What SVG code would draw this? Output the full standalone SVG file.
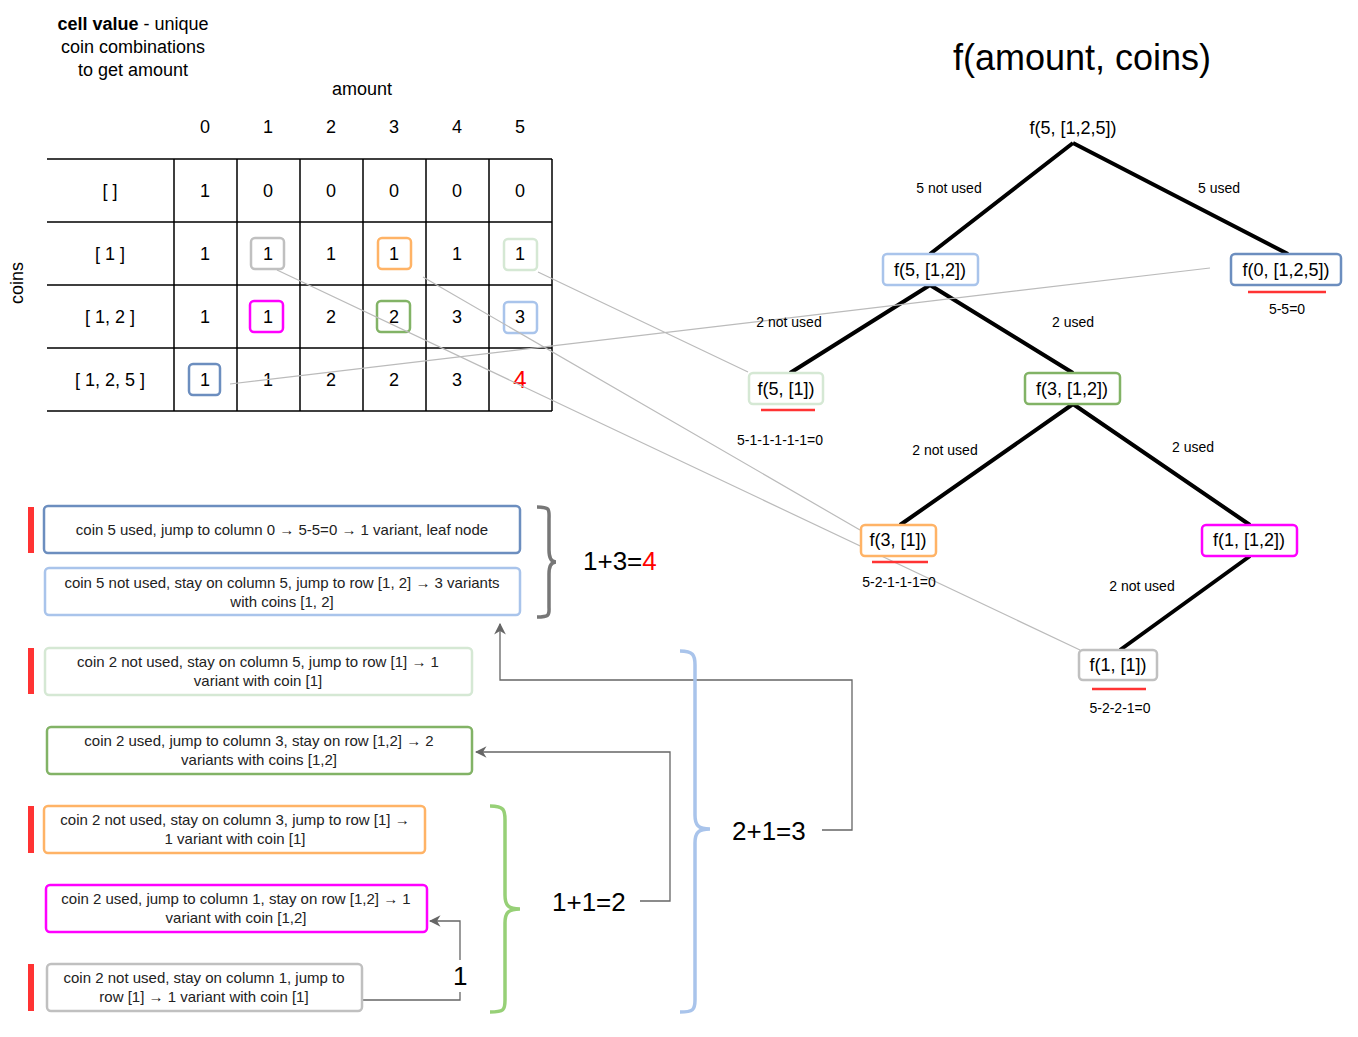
<svg xmlns="http://www.w3.org/2000/svg" width="1358" height="1037" viewBox="0 0 1358 1037">
<defs>
<style>
text{font-family:"Liberation Sans",Arial,sans-serif;fill:#000}
.t{font-size:18px;text-anchor:middle}
.s{font-size:14px;text-anchor:middle;fill:#666}
.b{font-size:15px;text-anchor:middle;fill:#222}
.g{fill:none;stroke:#000;stroke-width:1.5}
.nb{fill:#fff;stroke-width:2.5;rx:4}
.te{stroke:#000;stroke-width:4}
.gl{stroke:#bbb;stroke-width:1.2;fill:none}
.ul{stroke:#f33;stroke-width:2.5}
.rb{fill:#f33}
.cb{fill:#fff;stroke-width:2.5}
.ar{fill:none;stroke:#666;stroke-width:1.3;marker-end:url(#a)}
</style>
<marker id="a" viewBox="0 0 10 10" refX="9" refY="5" markerWidth="9" markerHeight="9" orient="auto"><path d="M0,0 L10,5 L0,10 L3,5 z" fill="#666"/></marker>
</defs>
<rect width="1358" height="1037" fill="#fff"/>
<text x="133" y="30" class="t"><tspan font-weight="bold">cell value</tspan> - unique</text>
<text x="133" y="53" class="t">coin combinations</text>
<text x="133" y="76" class="t">to get amount</text>
<text x="362" y="95" class="t">amount</text>
<text transform="translate(23,283) rotate(-90)" class="t">coins</text>
<text x="1082" y="70" font-size="36" text-anchor="middle">f(amount, coins)</text>
<g id="table">
<path class="g" d="M47,159H552M47,222H552M47,285H552M47,348H552M47,411H552M174,159V411M237,159V411M300,159V411M363,159V411M426,159V411M489,159V411M552,159V411"/>
<g class="t">
<text x="205" y="133">0</text><text x="268" y="133">1</text><text x="331" y="133">2</text><text x="394" y="133">3</text><text x="457" y="133">4</text><text x="520" y="133">5</text>
<text x="110" y="197">[ ]</text><text x="110" y="260">[ 1 ]</text><text x="110" y="323">[ 1, 2 ]</text><text x="110" y="386">[ 1, 2, 5 ]</text>
</g>
<rect class="cb" x="251" y="238" width="33" height="31" rx="4" stroke="#C0C0C0"/>
<rect class="cb" x="378" y="238" width="33" height="31" rx="4" stroke="#FFB366"/>
<rect class="cb" x="504" y="239" width="33" height="31" rx="4" stroke="#D5E8D4"/>
<rect class="cb" x="250" y="301" width="33" height="31" rx="4" stroke="#FF00FF"/>
<rect class="cb" x="377" y="301" width="33" height="31" rx="4" stroke="#82B366"/>
<rect class="cb" x="504" y="302" width="33" height="31" rx="4" stroke="#A9C4EB"/>
<rect class="cb" x="189" y="364" width="31" height="31" rx="4" stroke="#6C8EBF"/>
<g class="t">
<text x="205" y="197">1</text><text x="268" y="197">0</text><text x="331" y="197">0</text><text x="394" y="197">0</text><text x="457" y="197">0</text><text x="520" y="197">0</text>
<text x="205" y="260">1</text><text x="268" y="260">1</text><text x="331" y="260">1</text><text x="394" y="260">1</text><text x="457" y="260">1</text><text x="520" y="260">1</text>
<text x="205" y="323">1</text><text x="268" y="323">1</text><text x="331" y="323">2</text><text x="394" y="323">2</text><text x="457" y="323">3</text><text x="520" y="323">3</text>
<text x="205" y="386">1</text><text x="268" y="386">1</text><text x="331" y="386">2</text><text x="394" y="386">2</text><text x="457" y="386">3</text><text x="520" y="388" font-size="24" style="fill:#f00">4</text>
</g>
</g>
<g id="connectors">
<path class="te" d="M1073,143L930,254M1073,143L1288,254M930,285L790,373M930,285L1073,373M1073,404L900,525M1073,404L1250,525M1250,556L1120,650"/>
<path class="gl" d="M230,384L1210,268M538,272L748,372M423,277L860,530M277,270L1080,650"/>
<path class="ar" d="M822,830H852V680H500V624"/>
<path class="ar" d="M640,901H670V752H476"/>
<path class="ar" d="M460,960V921H430"/>
<path fill="none" stroke="#666" stroke-width="1.3" d="M362,1000H460V992"/>
<path fill="none" stroke="#777" stroke-width="3.5" d="M537,507C551,507 549,510 549,520V550C549,558 551,562 556,562C551,562 549,566 549,574V606C549,614 551,617 537,617"/>
<path fill="none" stroke="#97D077" stroke-width="3.5" d="M490,806C504,806 505,810 505,820V895C505,905 508,909 520,909C508,909 505,913 505,923V1000C505,1010 504,1012 490,1012"/>
<path fill="none" stroke="#A9C4EB" stroke-width="3.5" d="M680,651C693,651 695,655 695,665V815C695,825 698,829 710,829C698,829 695,833 695,843V1000C695,1010 693,1012 680,1012"/>
</g>
<g class="s">
<text x="949" y="193">5 not used</text><text x="1219" y="193">5 used</text>
<text x="789" y="327">2 not used</text><text x="1073" y="327">2 used</text>
<text x="945" y="455">2 not used</text><text x="1193" y="452">2 used</text>
<text x="1142" y="591">2 not used</text>
<text x="1287" y="314">5-5=0</text><text x="780" y="445">5-1-1-1-1-1=0</text><text x="899" y="587">5-2-1-1-1=0</text><text x="1120" y="713">5-2-2-1=0</text>
</g>
<g id="n0"><text x="1073" y="134" class="t">f(5, [1,2,5])</text></g>
<g id="n1"><rect class="nb" x="883" y="254" width="95" height="31" stroke="#A9C4EB"/><text x="930" y="276" class="t">f(5, [1,2])</text></g>
<g id="n2"><rect class="nb" x="1231" y="254" width="110" height="31" stroke="#6C8EBF"/><text x="1286" y="276" class="t">f(0, [1,2,5])</text><path class="ul" d="M1248,292H1326"/></g>
<g id="n3"><rect class="nb" x="749" y="373" width="74" height="31" stroke="#D5E8D4"/><text x="786" y="395" class="t">f(5, [1])</text><path class="ul" d="M761,410H815"/></g>
<g id="n4"><rect class="nb" x="1025" y="373" width="95" height="31" stroke="#82B366"/><text x="1072" y="395" class="t">f(3, [1,2])</text></g>
<g id="n5"><rect class="nb" x="861" y="525" width="75" height="31" stroke="#FFB366"/><text x="898" y="546" class="t">f(3, [1])</text><path class="ul" d="M872,562H928"/></g>
<g id="n6"><rect class="nb" x="1202" y="525" width="95" height="31" stroke="#FF00FF"/><text x="1249" y="546" class="t">f(1, [1,2])</text></g>
<g id="n7"><rect class="nb" x="1079" y="650" width="78" height="30" stroke="#C0C0C0"/><text x="1118" y="671" class="t">f(1, [1])</text><path class="ul" d="M1092,689H1146"/></g>
<g id="boxes">
<rect class="rb" x="28" y="507" width="6" height="46"/><rect class="rb" x="28" y="648" width="6" height="46"/><rect class="rb" x="28" y="806" width="6" height="47"/><rect class="rb" x="28" y="964" width="6" height="47"/>
<rect class="nb" x="44" y="506" width="476" height="47" stroke="#6C8EBF"/><text x="282" y="535" class="b">coin 5 used, jump to column 0 → 5-5=0 → 1 variant, leaf node</text>
<rect class="nb" x="45" y="568" width="475" height="47" stroke="#A9C4EB"/><text x="282" y="588" class="b">coin 5 not used, stay on column 5, jump to row [1, 2] → 3 variants</text><text x="282" y="607" class="b">with coins [1, 2]</text>
<rect class="nb" x="45" y="648" width="427" height="47" stroke="#D5E8D4"/><text x="258" y="667" class="b">coin 2 not used, stay on column 5, jump to row [1]  → 1</text><text x="258" y="686" class="b">variant with coin [1]</text>
<rect class="nb" x="47" y="727" width="425" height="47" stroke="#82B366"/><text x="259" y="746" class="b">coin 2 used, jump to column 3, stay on row [1,2]  → 2</text><text x="259" y="765" class="b">variants with coins [1,2]</text>
<rect class="nb" x="44" y="806" width="381" height="47" stroke="#FFB366"/><text x="235" y="825" class="b">coin 2 not used, stay on column 3, jump to row [1]  →</text><text x="235" y="844" class="b">1 variant with coin [1]</text>
<rect class="nb" x="46" y="885" width="381" height="47" stroke="#FF00FF"/><text x="236" y="904" class="b">coin 2 used, jump to column 1, stay on row [1,2]  → 1</text><text x="236" y="923" class="b">variant with coin [1,2]</text>
<rect class="nb" x="47" y="964" width="315" height="47" stroke="#C0C0C0"/><text x="204" y="983" class="b">coin 2 not used, stay on column 1, jump to</text><text x="204" y="1002" class="b">row [1]  → 1 variant with coin [1]</text>
</g>
<text x="583" y="570" font-size="26">1+3=<tspan style="fill:#f00">4</tspan></text>
<text x="552" y="911" font-size="26">1+1=2</text>
<text x="732" y="840" font-size="26">2+1=3</text>
<text x="453" y="985" font-size="26">1</text>
</svg>
